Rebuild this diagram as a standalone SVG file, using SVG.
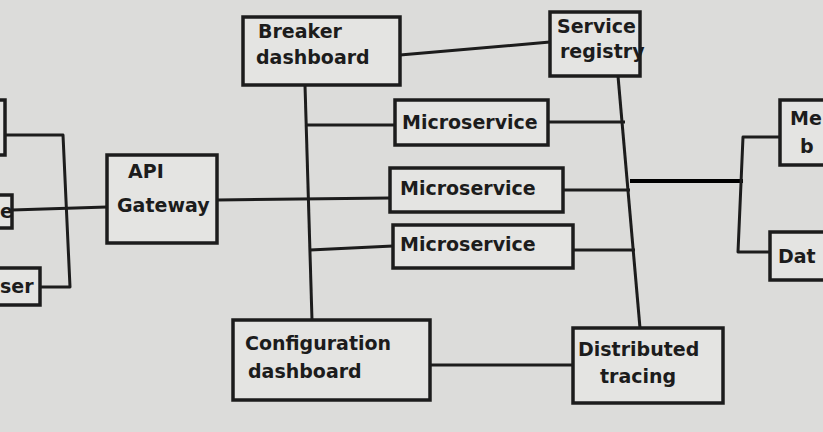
<svg xmlns="http://www.w3.org/2000/svg" width="823" height="432" viewBox="0 0 823 432">
<style>
.b{fill:#e4e4e2;stroke:#1c1c1c;stroke-width:3.5}
.c{fill:none;stroke:#1c1c1c;stroke-width:3;stroke-linejoin:round}
text{font-family:"DejaVu Sans",sans-serif;font-weight:bold;font-size:19px;fill:#1c1c1c}
</style>
<rect width="823" height="432" fill="#dcdcda"/>
<g id="connectors">
<path class="c" d="M5 135 L63 135 L70 287 L40 287"/>
<path class="c" d="M12 210 L107 207"/>
<path class="c" d="M217 200 L390 198"/>
<path class="c" d="M400 55 L550 42"/>
<path class="c" d="M305 85 L312 320"/>
<path class="c" d="M305 125 L395 125"/>
<path class="c" d="M548 122 L625 122"/>
<path class="c" d="M563 190 L630 190"/>
<path class="c" d="M310 250 L393 246"/>
<path class="c" d="M573 250 L635 250"/>
<path class="c" d="M618 76 L640 328"/>
<path d="M630 181 L743 181" stroke="#000" stroke-width="4"/>
<path class="c" d="M780 137 L743 137 L738 252 L773 252"/>
<path class="c" d="M430 365 L573 365"/>
</g>
<g id="n-left1"><rect class="b" x="-10" y="100" width="15" height="55"/></g>
<g id="n-left2"><rect class="b" x="-10" y="195" width="22" height="33"/><text x="0" y="218">e</text></g>
<g id="n-left3"><rect class="b" x="-10" y="268" width="50" height="37"/><text x="0" y="293">ser</text></g>
<g id="n-api"><rect class="b" x="107" y="155" width="110" height="88"/><text x="128" y="178">API</text><text x="117" y="212">Gateway</text></g>
<g id="n-breaker"><rect class="b" x="243" y="17" width="157" height="68"/><text x="258" y="38">Breaker</text><text x="256" y="64">dashboard</text></g>
<g id="n-registry"><rect class="b" x="550" y="12" width="90" height="64"/><text x="557" y="33">Service</text><text x="560" y="58">registry</text></g>
<g id="n-ms1"><rect class="b" x="395" y="100" width="153" height="45"/><text x="402" y="129">Microservice</text></g>
<g id="n-ms2"><rect class="b" x="390" y="168" width="173" height="44"/><text x="400" y="195">Microservice</text></g>
<g id="n-ms3"><rect class="b" x="393" y="225" width="180" height="43"/><text x="400" y="251">Microservice</text></g>
<g id="n-mb"><rect class="b" x="780" y="100" width="60" height="65"/><text x="790" y="125">Me</text><text x="800" y="153">b</text></g>
<g id="n-db"><rect class="b" x="770" y="232" width="70" height="48"/><text x="778" y="263">Dat</text></g>
<g id="n-config"><rect class="b" x="233" y="320" width="197" height="80"/><text x="245" y="350">Configuration</text><text x="248" y="378">dashboard</text></g>
<g id="n-tracing"><rect class="b" x="573" y="328" width="150" height="75"/><text x="578" y="356">Distributed</text><text x="600" y="383">tracing</text></g>
</svg>
